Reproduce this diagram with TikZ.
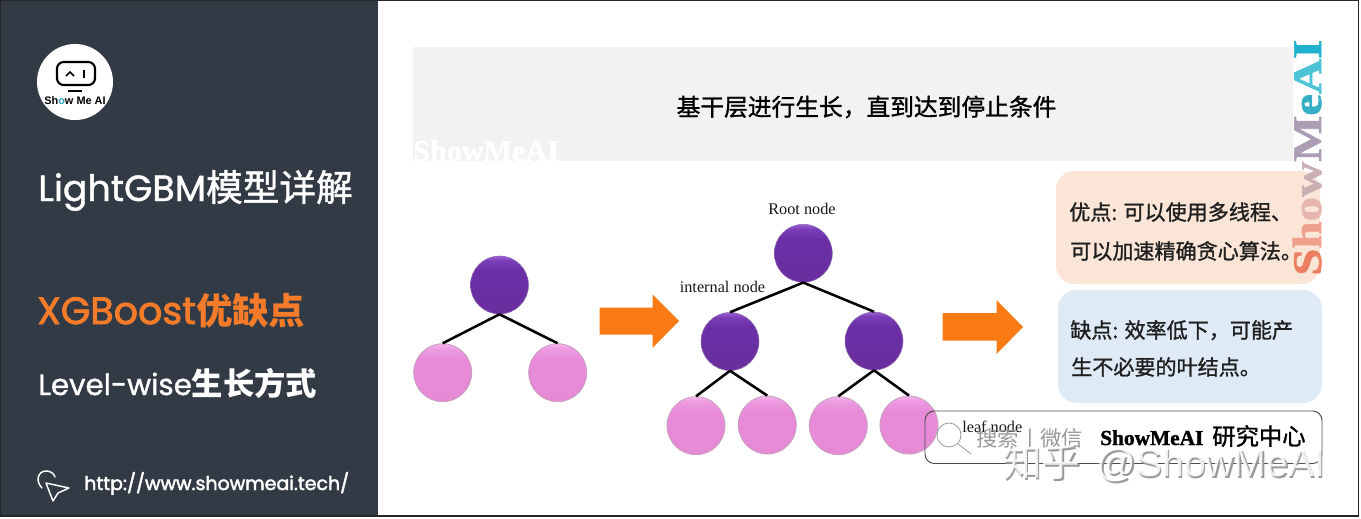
\documentclass[tikz,border=0pt]{standalone}
\usepackage{fontspec}
\setmainfont{Liberation Serif}
\newfontfamily\cjk{Noto Sans CJK SC}
\newfontfamily\cjkm[FakeBold=1.2]{Noto Sans CJK SC}
\newfontfamily\popm[FakeBold=1.2]{Poppins}
\newfontfamily\popb[FakeBold=2.2]{Poppins}
\newfontfamily\lsans{Liberation Sans}
\newfontfamily\hvy[UprightFont=* Bold,FakeBold=1.5]{Liberation Serif}
\definecolor{side}{HTML}{323A45}
\definecolor{acc}{HTML}{F47B2A}
\definecolor{arrowor}{HTML}{FA7A14}
\definecolor{bannerg}{HTML}{F2F2F2}
\definecolor{pros}{HTML}{FBE5D6}
\definecolor{cons}{HTML}{DEEBF7}
\definecolor{PurE}{HTML}{8C6BB0}
\definecolor{PinE}{HTML}{C3A0BC}
\definecolor{PuA}{HTML}{6A2E9E}\definecolor{PuB}{HTML}{6A2FA6}\definecolor{PuC}{HTML}{7A3EB8}\definecolor{PuD}{HTML}{9A60D2}
\definecolor{PiA}{HTML}{E68AD6}\definecolor{PiB}{HTML}{E88AD8}\definecolor{PiC}{HTML}{EE9CE2}\definecolor{PiD}{HTML}{F5B4EA}
\pgfdeclareverticalshading{purpleS}{100bp}{color(0bp)=(PuA); color(25bp)=(PuA); color(62bp)=(PuB); color(71bp)=(PuC); color(75bp)=(PuD); color(100bp)=(PuD)}
\pgfdeclareverticalshading{pinkS}{100bp}{color(0bp)=(PiA); color(25bp)=(PiA); color(62bp)=(PiB); color(71bp)=(PiC); color(75bp)=(PiD); color(100bp)=(PiD)}
\tikzset{
 x=0.75pt,y=-0.75pt,
 side text/.style={anchor=base west,inner sep=0,text=white},
 purpleball/.style={circle,minimum size=43.5pt,inner sep=0,draw=PurE,line width=.4pt,shading=purpleS},
 pinkball/.style={circle,minimum size=43.5pt,inner sep=0,draw=PinE,line width=.6pt,shading=pinkS},
 edge line/.style={line width=1.9pt,black},
 bigarrow/.style={fill=arrowor,draw=none},
 label serif/.style={inner sep=0,font=\fontsize{12.2}{14}\selectfont,text=black!90},
 infobox/.style={rounded corners=14pt,draw=none},
 infotext/.style={anchor=base west,inner sep=0,font=\cjkm\fontsize{15.8}{18}\selectfont,text=black!88},
}
\begin{document}
\begin{tikzpicture}
\useasboundingbox (0,0) rectangle (1361,518);
\fill[white] (0,0) rectangle (1361,518);
% sidebar
\fill[side] (0,0) rectangle (378,516);
% logo
\fill[white] (75,82) circle[radius=38];
\draw[black,line width=1.6pt,rounded corners=5pt] (57,62) rectangle (95,85);
\draw[black,line width=1.1pt] (66,76) -- (70,72) -- (74,76);
\draw[black,line width=1.3pt] (84,70) -- (84,78);
\draw[black,line width=1.1pt] (68,91) -- (82,91);
\node[inner sep=0] (logotext) at (75,100.5) {\lsans\bfseries\fontsize{8.2}{10}\selectfont Sh{\color[HTML]{2AA7C4}o}w Me AI};
% sidebar text
\node[side text] (t1) at (38,201) {\popm\fontsize{27.3}{30}\selectfont LightGBM{\cjkm\fontsize{27.5}{30}\selectfont 模型详解}};
\node[side text,text=acc] (t2) at (37,324) {\popb\fontsize{28.5}{30}\selectfont XGBoost{\cjk\bfseries\fontsize{27.3}{30}\selectfont 优缺点}};
\node[side text] (t3) at (38,395) {\popm\fontsize{22}{28}\selectfont Level-wise{\cjk\bfseries\fontsize{23.5}{28}\selectfont 生长方式}};
\node[side text] (url) at (84,490) {\popb\fontsize{14.2}{18}\selectfont http://www.showmeai.tech/};
% cursor icon
\draw[white,line width=1.1pt,line join=round] (46,483) -- (69,488) -- (58,493) -- (53,501) -- cycle;
\draw[white,line width=1.1pt,line cap=round] (42,488) .. controls (35,481) and (38,471) .. (46,471) .. controls (50,471) and (54,473) .. (55,477);
% banner
\fill[bannerg] (413,47) rectangle (1293,161);
\begin{scope}
\clip (405,130) rectangle (570,163);
\node[inner sep=0,anchor=base west,text=white] (wm1) at (413,161) {\hvy\fontsize{22.6}{24}\selectfont ShowMeAI};
\end{scope}
\node[inner sep=0] (banner) at (866.5,107) {\cjkm\fontsize{17.8}{20}\selectfont 基干层进行生长，直到达到停止条件};
% boxes
\fill[pros,infobox] (1056,171) rectangle (1320,284);
\fill[cons,infobox] (1058,290) rectangle (1322,403);
\node[infotext] (p1) at (1069,220) {优点: 可以使用多线程、};
\node[infotext] (p2) at (1070,259) {可以加速精确贪心算法。};
\node[infotext] (c1) at (1070,338) {缺点: 效率低下，可能产};
\node[infotext] (c2) at (1071,375) {生不必要的叶结点。};
% vertical watermark
\node[inner sep=0,anchor=base west,rotate=90,xscale=1.2,transform shape] (wm2) at (1321,276)
 {\hvy\fontsize{30.5}{32}\selectfont{\color[HTML]{EC7F62}S}{\color[HTML]{EFA08C}h}{\color[HTML]{E6B7AE}o}{\color[HTML]{C9AEB4}w}{\color[HTML]{AC9DB4}M}{\color[HTML]{35AEC6}e}{\color[HTML]{4CC3D6}A}{\color[HTML]{1FB2CE}I}};
% left tree
\node[purpleball] (a) at (499.5,285) {};
\node[pinkball] (b) at (442.7,372.7) {};
\node[pinkball] (c) at (557.7,372.7) {};
\draw[edge line] (a.south) -- (b.north);
\draw[edge line] (a.south) -- (c.north);
% arrows
\fill[bigarrow] (599.5,307.5) -- (652.5,307.5) -- (652.5,294.5) -- (679,321) -- (652.5,348) -- (652.5,334.5) -- (599.5,334.5) -- cycle;
\fill[bigarrow] (942.5,313) -- (996.5,313) -- (996.5,300) -- (1023,327) -- (996.5,354) -- (996.5,340.5) -- (942.5,340.5) -- cycle;
% right tree
\node[purpleball] (r) at (803.3,253.3) {};
\node[purpleball] (i1) at (730,341.5) {};
\node[purpleball] (i2) at (874,341) {};
\node[pinkball] (l1) at (696,425.7) {};
\node[pinkball] (l2) at (767.3,425) {};
\node[pinkball] (l3) at (838.3,425.7) {};
\node[pinkball] (l4) at (909,425) {};
\draw[edge line] (r.south) -- (i1.north);
\draw[edge line] (r.south) -- (i2.north);
\draw[edge line] (i1.south) -- (l1.north);
\draw[edge line] (i1.south) -- (l2.north);
\draw[edge line] (i2.south) -- (l3.north);
\draw[edge line] (i2.south) -- (l4.north);
\node[label serif] (rootlabel) at (802,209) {Root node};
\node[label serif] (intlabel) at (722.5,287) {internal node};
% search box
\draw[black!70,line width=.7pt,rounded corners=7pt] (925,411) rectangle (1322,463.5);
\draw[black!40,line width=.6pt] (949,435) circle[radius=12];
\draw[black!40,line width=.6pt] (958,444) -- (971,454);
\node[label serif,anchor=base west] (leaflabel) at (962,432) {leaf node};
\node[inner sep=0,anchor=base west,text=black!40] (search) at (976,446) {\cjk\fontsize{16}{18}\selectfont 搜索};
\node[inner sep=0,text=black!40] (bar) at (1030,438) {\lsans\fontsize{15}{18}\selectfont |};
\node[inner sep=0,anchor=base west,text=black!40] (wx) at (1040,446) {\cjk\fontsize{16}{18}\selectfont 微信};
\node[inner sep=0,anchor=base west,text=black] (brand) at (1100,445) {\hvy\fontsize{16}{18}\selectfont ShowMeAI};
\node[inner sep=0,anchor=base west,text=black] (brand2) at (1212,445) {\cjkm\fontsize{17.5}{20}\selectfont 研究中心};
% zhihu watermark
\node[inner sep=0,anchor=base west,text=black!40] (zh1) at (1004.5,478) {{\cjk\fontsize{29}{32}\selectfont 知乎}\hspace{12pt}{\lsans\fontsize{29.3}{32}\selectfont @ShowMeAI}};
\node[inner sep=0,anchor=base west,text=white,opacity=.85] (zh2) at (1003,476.5) {{\cjk\fontsize{29}{32}\selectfont 知乎}\hspace{12pt}{\lsans\fontsize{29.3}{32}\selectfont @ShowMeAI}};
% outer border
\draw[black!85,line width=1.2pt] (0.5,0.5) rectangle (1358.5,516);
\end{tikzpicture}
\end{document}
